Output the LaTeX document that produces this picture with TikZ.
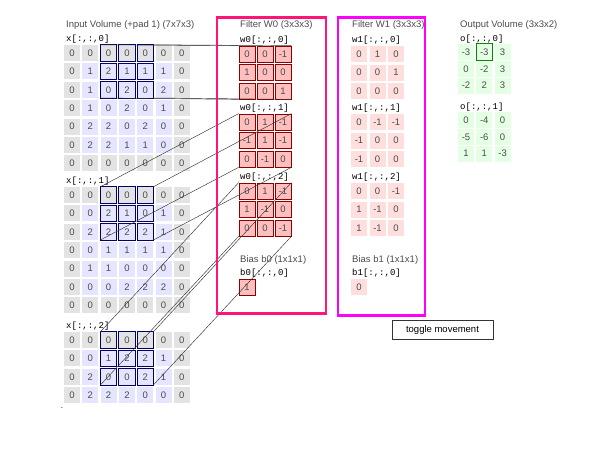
\documentclass[tikz,border=0pt]{standalone}
\usepackage{fontspec}
\setmainfont{Liberation Sans}
\newfontfamily\monof{Liberation Mono}
\definecolor{boxa}{RGB}{255,20,120}
\definecolor{boxb}{RGB}{255,0,255}
\begin{document}
\begin{tikzpicture}[x=1pt,y=-1pt,
  cell/.style={minimum width=16pt,minimum height=16pt,inner sep=0pt,font=\fontsize{9.5}{9}\selectfont,text=black!70},
  pad/.style={cell,fill=gray!22},
  inner/.style={cell,fill=blue!10},
  wcell/.style={cell,fill=red!25,draw=red!55!black,line width=0.7pt},
  w1cell/.style={cell,fill=red!13},
  ocell/.style={cell,fill=green!10},
  ttl/.style={anchor=west,inner sep=0pt,font=\fontsize{9.5}{10}\selectfont,text=black!70},
  lbl/.style={anchor=west,inner sep=0pt,font=\monof\fontsize{9}{9}\selectfont},
  conn/.style={draw=black!80,line width=0.45pt},
  rf/.style={draw=blue!40!black,line width=0.9pt}]
\useasboundingbox (0,0) rectangle (616,458);
% titles
\node[ttl] (t1) at (66,25) {Input Volume (+pad 1) (7x7x3)};
\node[ttl] (t2) at (240,25) {Filter W0 (3x3x3)};
\node[ttl] (t3) at (352,25) {Filter W1 (3x3x3)};
\node[ttl] (t4) at (460,25) {Output Volume (3x3x2)};
% input slices
\foreach \s/\y/\lab/\rows in {0/53/{x[:,:,0]}/{{0,0,0,0,0,0,0},{0,1,2,1,1,1,0},{0,1,0,2,0,2,0},{0,1,0,2,0,1,0},{0,2,2,0,2,0,0},{0,2,2,1,1,0,0},{0,0,0,0,0,0,0}},
  1/195/{x[:,:,1]}/{{0,0,0,0,0,0,0},{0,0,2,1,0,1,0},{0,2,2,2,2,1,0},{0,0,1,1,1,1,0},{0,1,1,0,0,0,0},{0,0,0,2,2,2,0},{0,0,0,0,0,0,0}},
  2/340/{x[:,:,2]}/{{0,0,0,0,0,0,0},{0,0,1,2,2,1,0},{0,2,0,0,2,1,0},{0,2,2,2,0,0,0}}}{
  \node[lbl] (xl\s) at (66,\y-14) {\lab};
  \foreach \row [count=\r from 0] in \rows {
    \foreach \v [count=\c from 0] in \row {
      \pgfmathtruncatemacro\isp{(\r==0||\r==6||\c==0||\c==6)?1:0}
      \ifnum\isp=1 \def\st{pad}\else\def\st{inner}\fi
      \node[\st] (in\s-\r-\c) at (72+18.3*\c,\y+18.4*\r) {\v};
    }
  }
}
% filters W0
\foreach \s/\y/\rows in {0/54/{{0,0,-1},{1,0,0},{0,0,1}},1/122/{{0,1,-1},{-1,1,-1},{0,-1,0}},2/191/{{0,1,-1},{1,-1,0},{0,0,-1}}}{
  \node[lbl] (w0l\s) at (240,\y-14) {w0[:,:,\s]};
  \node[lbl] (w1l\s) at (352,\y-14) {w1[:,:,\s]};
  \foreach \row [count=\r from 0] in \rows {
    \foreach \v [count=\c from 0] in \row {
      \node[wcell] (w0-\s-\r-\c) at (247+18*\c,\y+18.5*\r) {\v};
    }
  }
}
\foreach \s/\y/\rows in {0/54/{{0,1,0},{0,0,1},{0,0,0}},1/122/{{0,-1,-1},{-1,0,0},{-1,0,0}},2/191/{{0,0,-1},{1,-1,0},{1,-1,0}}}{
  \foreach \row [count=\r from 0] in \rows {
    \foreach \v [count=\c from 0] in \row {
      \node[w1cell] (w1-\s-\r-\c) at (359+18.5*\c,\y+18.5*\r) {\v};
    }
  }
}
\node[ttl] (bt0) at (240,260) {Bias b0 (1x1x1)};
\node[lbl] (bl0) at (240,273) {b0[:,:,0]};
\node[wcell] (b0) at (247,287) {1};
\node[ttl] (bt1) at (352,260) {Bias b1 (1x1x1)};
\node[lbl] (bl1) at (352,273) {b1[:,:,0]};
\node[w1cell] (b1) at (359,287) {0};
% output
\foreach \s/\y/\rows in {0/52/{{-3,-3,3},{0,-2,3},{-2,2,3}},1/120/{{0,-4,0},{-5,-6,0},{1,1,-3}}}{
  \node[lbl] (ol\s) at (460,\y-13) {o[:,:,\s]};
  \foreach \row [count=\r from 0] in \rows {
    \foreach \v [count=\c from 0] in \row {
      \node[ocell] (o-\s-\r-\c) at (466+18.3*\c,\y+16.8*\r) {\v};
    }
  }
}
\draw[draw=green!55!black,line width=0.9pt] (o-0-0-1.north west) rectangle (o-0-0-1.south east);
% receptive field highlights
\foreach \s in {0,1,2}{
  \foreach \r in {0,1,2}{\foreach \c in {2,3,4}{
    \draw[rf] (in\s-\r-\c.north west) rectangle (in\s-\r-\c.south east);}}
}
% connectors
\foreach \s in {0,1,2}{
  \draw[conn] (in\s-0-2.north west) -- (w0-\s-0-0.north west);
  \draw[conn] (in\s-0-4.north east) -- (w0-\s-0-2.north east);
  \draw[conn] (in\s-2-2.south west) -- (w0-\s-2-0.south west);
  \draw[conn] (in\s-2-4.south east) -- (w0-\s-2-2.south east);
}
% boxes
\node[draw=boxa,line width=2.6pt,minimum width=109pt,minimum height=296pt,inner sep=0pt] (box0) at (271.5,165.5) {};
\node[draw=boxb,line width=2.6pt,minimum width=87pt,minimum height=298pt,inner sep=0pt] (box1) at (381.5,166.5) {};
% toggle button
\node[draw=black!80,line width=0.8pt,fill=white,minimum width=101pt,minimum height=19pt,inner sep=0pt,font=\fontsize{9.5}{10}\selectfont] (tog) at (442.5,330) {toggle movement};
\node[inner sep=0pt,font=\fontsize{8}{8}\selectfont] (dot) at (62,408) {.};
\end{tikzpicture}
\end{document}
